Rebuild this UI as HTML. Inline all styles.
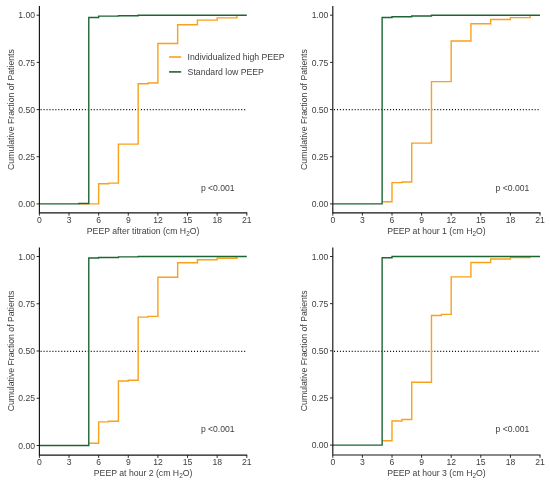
<!DOCTYPE html>
<html><head><meta charset="utf-8"><title>Cumulative distribution of PEEP</title>
<style>html,body{margin:0;padding:0;background:#fff}svg{display:block}text{font-family:"Liberation Sans",Arial,sans-serif}</style></head>
<body>
<svg width="550" height="484" viewBox="0 0 550 484">
<rect width="550" height="484" fill="#fff"/>
<g>
<line x1="39.40" y1="109.55" x2="246.80" y2="109.55" stroke="#111" stroke-width="1.15" stroke-dasharray="1.05 1.9" stroke-dashoffset="-1.2"/>
<path d="M78.90 203.90H98.66V183.80H108.53V183.14H118.41V144.08H138.16V83.70H148.04V82.94H157.91V43.50H177.66V24.82H197.42V20.11H217.17V17.84H236.92V15.77" fill="none" stroke="#F9A11B" stroke-width="1.4"/>
<path d="M39.40 203.90H78.90V203.52H88.78V17.46H98.66V16.14H118.41V15.77H138.16V15.20H246.80" fill="none" stroke="#1C6633" stroke-width="1.4"/>
<path d="M39.40 5.90V212.80H247.20" fill="none" stroke="#141414" stroke-width="1.15"/>
<path d="M36.60 203.90H39.40M36.60 156.72H39.40M36.60 109.55H39.40M36.60 62.38H39.40M36.60 15.20H39.40M39.40 212.80V215.60M69.03 212.80V215.60M98.66 212.80V215.60M128.28 212.80V215.60M157.91 212.80V215.60M187.54 212.80V215.60M217.17 212.80V215.60M246.80 212.80V215.60" fill="none" stroke="#141414" stroke-width="0.9"/>
<g font-size="8.6" fill="#404040" text-anchor="end"><text x="35.00" y="207.10">0.00</text><text x="35.00" y="159.92">0.25</text><text x="35.00" y="112.75">0.50</text><text x="35.00" y="65.58">0.75</text><text x="35.00" y="18.40">1.00</text></g>
<g font-size="8.6" fill="#404040" text-anchor="middle"><text x="39.40" y="223.30">0</text><text x="69.03" y="223.30">3</text><text x="98.66" y="223.30">6</text><text x="128.28" y="223.30">9</text><text x="157.91" y="223.30">12</text><text x="187.54" y="223.30">15</text><text x="217.17" y="223.30">18</text><text x="246.80" y="223.30">21</text></g>
<text x="143.10" y="234.30" font-size="8.7" fill="#404040" text-anchor="middle">PEEP after titration (cm H<tspan font-size="6.4" dy="1.7">2</tspan><tspan dy="-1.7">O)</tspan></text>
<text transform="translate(13.50 109.55) rotate(-90)" font-size="8.7" fill="#404040" text-anchor="middle">Cumulative Fraction of Patients</text>
<text x="200.90" y="190.60" font-size="8.6" fill="#404040">p &lt;0.001</text>
</g>
<g>
<line x1="332.80" y1="109.55" x2="540.01" y2="109.55" stroke="#111" stroke-width="1.15" stroke-dasharray="1.05 1.9" stroke-dashoffset="-1.2"/>
<path d="M382.13 201.82H392.00V182.58H401.87V182.01H411.74V143.14H431.47V81.62H451.20V41.05H470.94V23.69H490.67V19.54H510.41V17.65H530.14V15.95" fill="none" stroke="#F9A11B" stroke-width="1.4"/>
<path d="M332.80 203.90H382.13V17.46H392.00V16.71H411.74V16.05H431.47V15.20H540.01" fill="none" stroke="#1C6633" stroke-width="1.4"/>
<path d="M332.80 5.90V212.80H540.41" fill="none" stroke="#141414" stroke-width="1.15"/>
<path d="M330.00 203.90H332.80M330.00 156.72H332.80M330.00 109.55H332.80M330.00 62.38H332.80M330.00 15.20H332.80M332.80 212.80V215.60M362.40 212.80V215.60M392.00 212.80V215.60M421.60 212.80V215.60M451.20 212.80V215.60M480.81 212.80V215.60M510.41 212.80V215.60M540.01 212.80V215.60" fill="none" stroke="#141414" stroke-width="0.9"/>
<g font-size="8.6" fill="#404040" text-anchor="end"><text x="328.40" y="207.10">0.00</text><text x="328.40" y="159.92">0.25</text><text x="328.40" y="112.75">0.50</text><text x="328.40" y="65.58">0.75</text><text x="328.40" y="18.40">1.00</text></g>
<g font-size="8.6" fill="#404040" text-anchor="middle"><text x="332.80" y="223.30">0</text><text x="362.40" y="223.30">3</text><text x="392.00" y="223.30">6</text><text x="421.60" y="223.30">9</text><text x="451.20" y="223.30">12</text><text x="480.81" y="223.30">15</text><text x="510.41" y="223.30">18</text><text x="540.01" y="223.30">21</text></g>
<text x="436.40" y="234.30" font-size="8.7" fill="#404040" text-anchor="middle">PEEP at hour 1 (cm H<tspan font-size="6.4" dy="1.7">2</tspan><tspan dy="-1.7">O)</tspan></text>
<text transform="translate(306.90 109.55) rotate(-90)" font-size="8.7" fill="#404040" text-anchor="middle">Cumulative Fraction of Patients</text>
<text x="495.60" y="190.60" font-size="8.6" fill="#404040">p &lt;0.001</text>
</g>
<g>
<line x1="39.40" y1="351.40" x2="246.80" y2="351.40" stroke="#111" stroke-width="1.15" stroke-dasharray="1.05 1.9" stroke-dashoffset="-1.2"/>
<path d="M88.78 443.23H98.66V421.88H108.53V421.31H118.41V381.05H128.28V380.30H138.16V317.17H148.04V316.41H157.91V277.29H177.66V262.74H197.42V259.71H217.17V258.20H236.92V257.07" fill="none" stroke="#F9A11B" stroke-width="1.4"/>
<path d="M39.40 445.50H88.78V258.01H98.66V257.44H118.41V256.88H138.16V256.50H246.80" fill="none" stroke="#1C6633" stroke-width="1.4"/>
<path d="M39.40 247.40V455.10H247.20" fill="none" stroke="#141414" stroke-width="1.15"/>
<path d="M36.60 445.50H39.40M36.60 398.25H39.40M36.60 351.00H39.40M36.60 303.75H39.40M36.60 256.50H39.40M39.40 455.10V457.90M69.03 455.10V457.90M98.66 455.10V457.90M128.28 455.10V457.90M157.91 455.10V457.90M187.54 455.10V457.90M217.17 455.10V457.90M246.80 455.10V457.90" fill="none" stroke="#141414" stroke-width="0.9"/>
<g font-size="8.6" fill="#404040" text-anchor="end"><text x="35.00" y="448.70">0.00</text><text x="35.00" y="401.45">0.25</text><text x="35.00" y="354.20">0.50</text><text x="35.00" y="306.95">0.75</text><text x="35.00" y="259.70">1.00</text></g>
<g font-size="8.6" fill="#404040" text-anchor="middle"><text x="39.40" y="465.00">0</text><text x="69.03" y="465.00">3</text><text x="98.66" y="465.00">6</text><text x="128.28" y="465.00">9</text><text x="157.91" y="465.00">12</text><text x="187.54" y="465.00">15</text><text x="217.17" y="465.00">18</text><text x="246.80" y="465.00">21</text></g>
<text x="143.10" y="476.00" font-size="8.7" fill="#404040" text-anchor="middle">PEEP at hour 2 (cm H<tspan font-size="6.4" dy="1.7">2</tspan><tspan dy="-1.7">O)</tspan></text>
<text transform="translate(13.50 351.00) rotate(-90)" font-size="8.7" fill="#404040" text-anchor="middle">Cumulative Fraction of Patients</text>
<text x="200.90" y="432.00" font-size="8.6" fill="#404040">p &lt;0.001</text>
</g>
<g>
<line x1="332.80" y1="351.40" x2="540.01" y2="351.40" stroke="#111" stroke-width="1.15" stroke-dasharray="1.05 1.9" stroke-dashoffset="-1.2"/>
<path d="M382.13 440.76H392.00V420.96H401.87V419.45H411.74V382.30H431.47V315.53H441.34V314.40H451.20V276.87H470.94V262.54H490.67V258.95H510.41V257.63H530.14V256.88" fill="none" stroke="#F9A11B" stroke-width="1.4"/>
<path d="M332.80 445.10H382.13V257.82H392.00V256.50H540.01" fill="none" stroke="#1C6633" stroke-width="1.4"/>
<path d="M332.80 247.40V455.00H540.41" fill="none" stroke="#141414" stroke-width="1.15"/>
<path d="M330.00 445.10H332.80M330.00 397.95H332.80M330.00 350.80H332.80M330.00 303.65H332.80M330.00 256.50H332.80M332.80 455.00V457.80M362.40 455.00V457.80M392.00 455.00V457.80M421.60 455.00V457.80M451.20 455.00V457.80M480.81 455.00V457.80M510.41 455.00V457.80M540.01 455.00V457.80" fill="none" stroke="#141414" stroke-width="0.9"/>
<g font-size="8.6" fill="#404040" text-anchor="end"><text x="328.40" y="448.30">0.00</text><text x="328.40" y="401.15">0.25</text><text x="328.40" y="354.00">0.50</text><text x="328.40" y="306.85">0.75</text><text x="328.40" y="259.70">1.00</text></g>
<g font-size="8.6" fill="#404040" text-anchor="middle"><text x="332.80" y="464.90">0</text><text x="362.40" y="464.90">3</text><text x="392.00" y="464.90">6</text><text x="421.60" y="464.90">9</text><text x="451.20" y="464.90">12</text><text x="480.81" y="464.90">15</text><text x="510.41" y="464.90">18</text><text x="540.01" y="464.90">21</text></g>
<text x="436.40" y="475.90" font-size="8.7" fill="#404040" text-anchor="middle">PEEP at hour 3 (cm H<tspan font-size="6.4" dy="1.7">2</tspan><tspan dy="-1.7">O)</tspan></text>
<text transform="translate(306.90 350.80) rotate(-90)" font-size="8.7" fill="#404040" text-anchor="middle">Cumulative Fraction of Patients</text>
<text x="495.60" y="432.00" font-size="8.6" fill="#404040">p &lt;0.001</text>
</g>
<g>
<line x1="169.1" y1="57" x2="181.2" y2="57" stroke="#F9A11B" stroke-width="1.6"/>
<line x1="169.1" y1="71.9" x2="181.2" y2="71.9" stroke="#1C6633" stroke-width="1.6"/>
<text x="187.6" y="60.4" font-size="8.7" fill="#404040">Individualized high PEEP</text>
<text x="187.6" y="75.3" font-size="8.7" fill="#404040">Standard low PEEP</text>
</g>
</svg>
</body></html>
